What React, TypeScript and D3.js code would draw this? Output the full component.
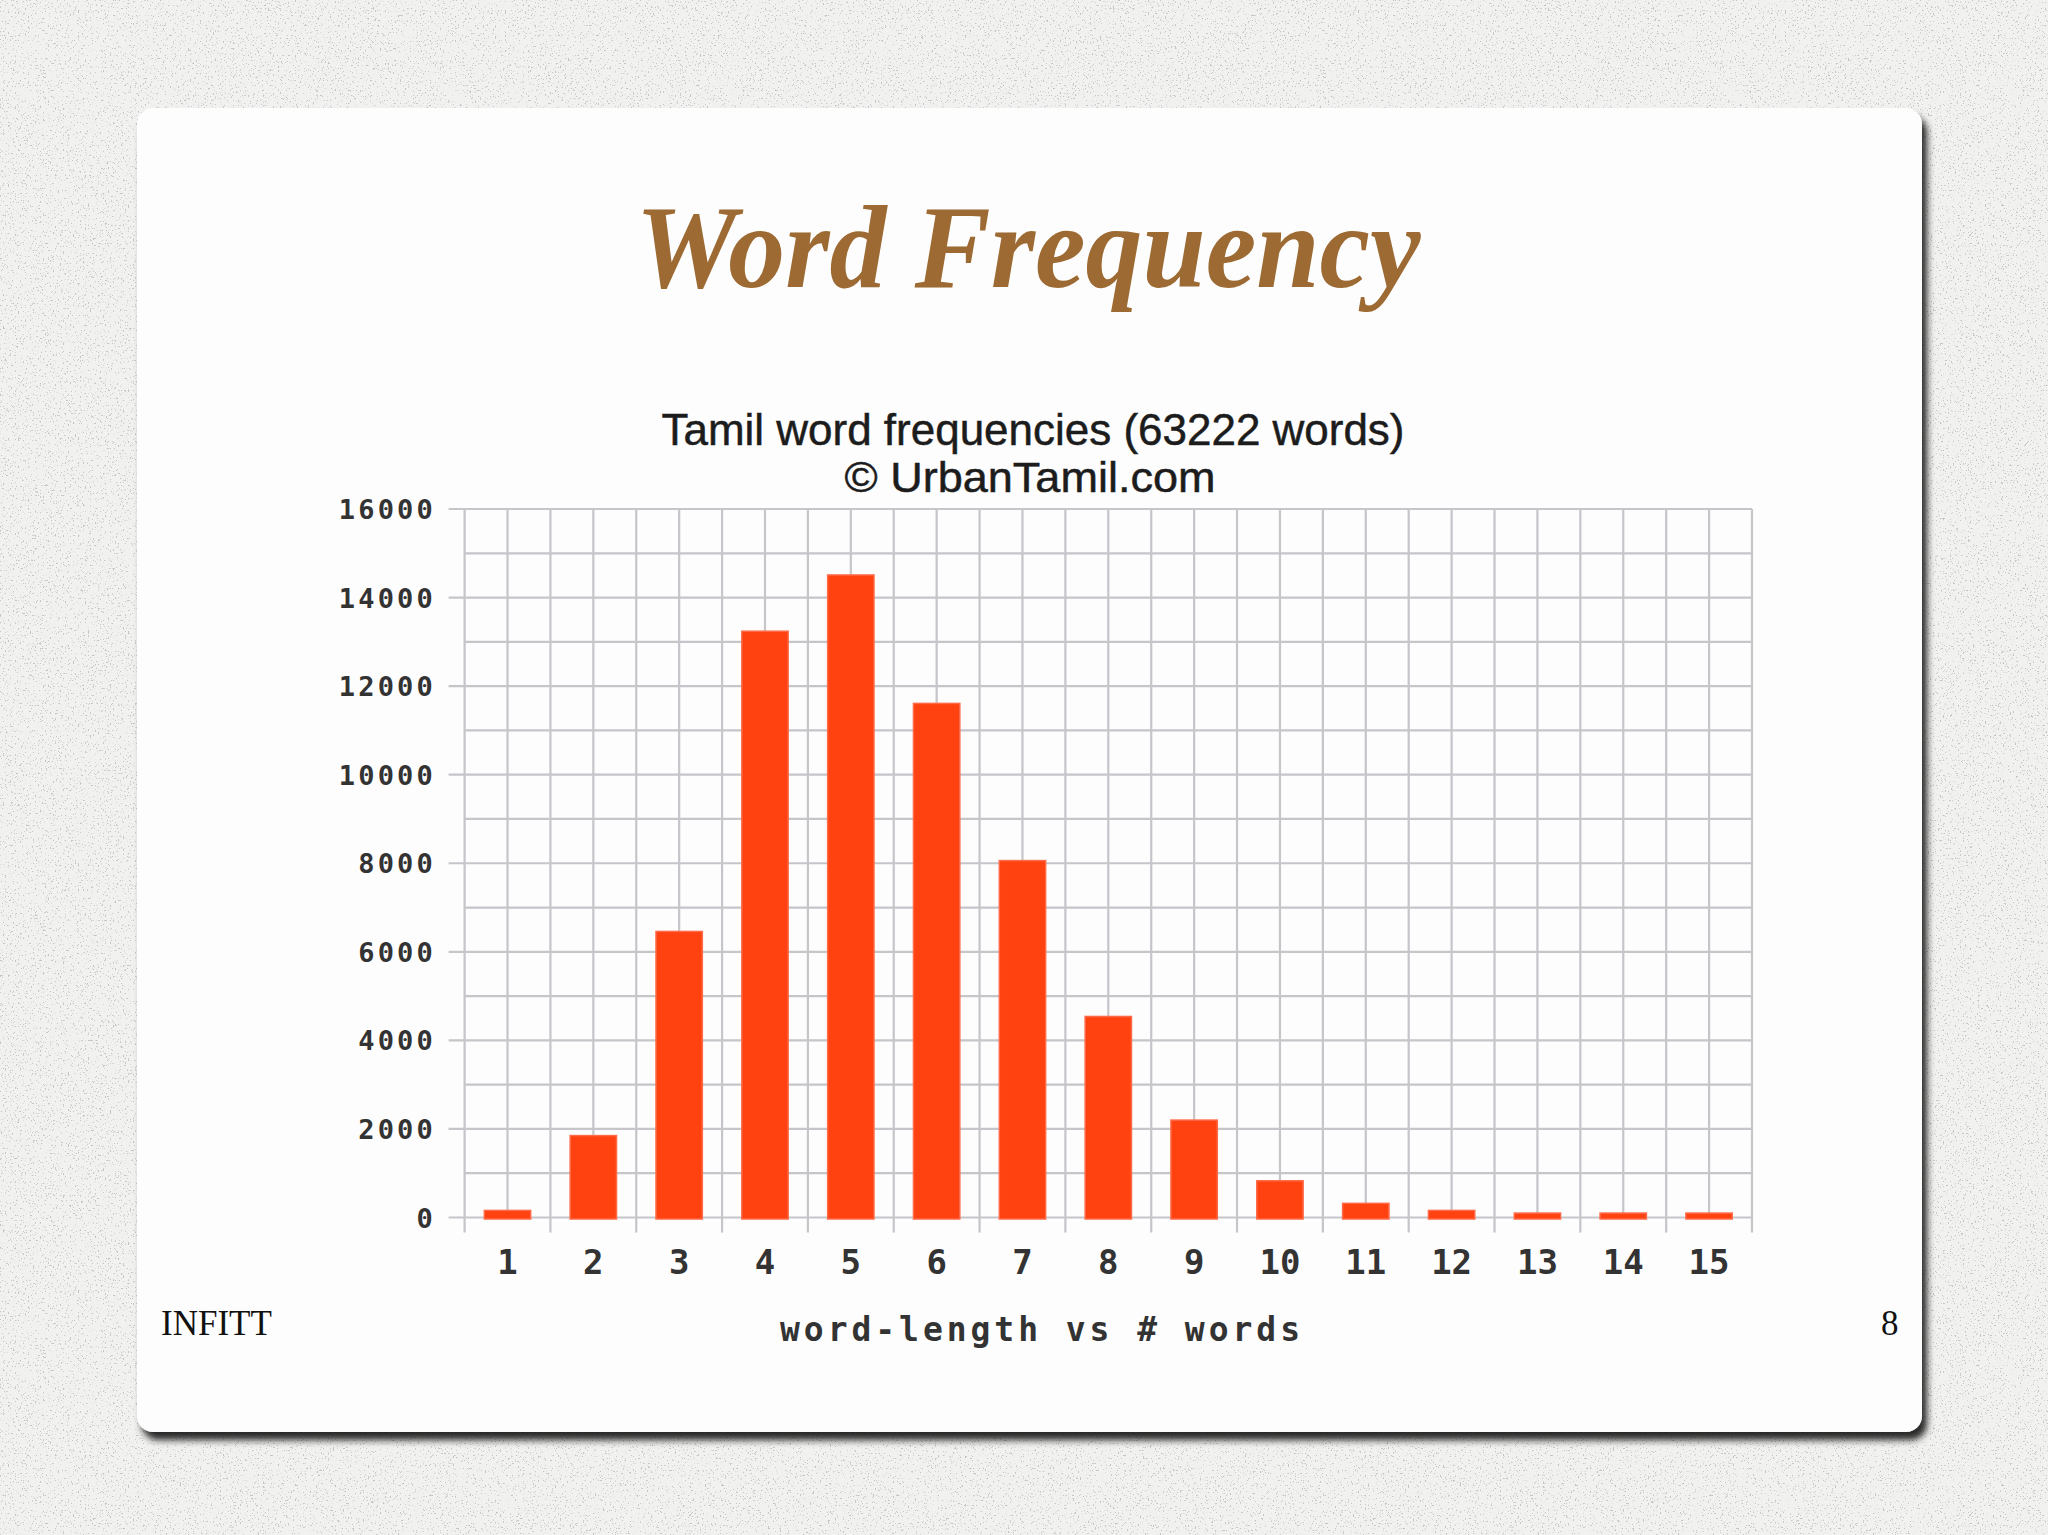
import React from "react";
import * as d3 from "d3";

const categories = [1, 2, 3, 4, 5, 6, 7, 8, 9, 10, 11, 12, 13, 14, 15];
const wordCounts = [160, 1850, 6460, 13240, 14510, 11610, 8060, 4540, 2200, 830, 320, 160, 100, 100, 100];
const yTicks = [0, 2000, 4000, 6000, 8000, 10000, 12000, 14000, 16000];
const yMinorTicks = [1000, 3000, 5000, 7000, 9000, 11000, 13000, 15000];
const slideTitle = "Word Frequency";
const chartTitle1 = "Tamil word frequencies (63222 words)";
const chartTitle2 = "© UrbanTamil.com";
const xAxisTitle = "word-length vs # words";
const footerLeft = "INFITT";
const footerRight = "8";

const W = 2048;
const H = 1535;
const plot = { left: 464.6, right: 1752, top: 509, bottom: 1217.5 };

export default function App() {
  const x = d3.scaleLinear().domain([0.5, 15.5]).range([plot.left, plot.right]);
  const y = d3.scaleLinear().domain([0, 16000]).range([plot.bottom, plot.top]);
  const step = x(2) - x(1);
  const barW = step * 0.54;
  const halfTicks = d3.range(0.5, 15.51, 0.5);
  const grid = "#c5c5ca";

  return (
    <svg
      width={W}
      height={H}
      viewBox={`0 0 ${W} ${H}`}
      style={{ position: "absolute", left: 0, top: 0, display: "block" }}
    >
      <defs>
        <filter id="speckle" x="0" y="0" width="100%" height="100%">
          <feTurbulence type="fractalNoise" baseFrequency="0.6" numOctaves="2" seed="7" result="n" />
          <feColorMatrix
            in="n"
            type="matrix"
            values="0 0 0 0 0.45  0 0 0 0 0.45  0 0 0 0 0.45  12 0 0 0 -7.6"
          />
        </filter>
        <filter id="cardShadow" x="-5%" y="-5%" width="110%" height="112%">
          <feDropShadow dx="5" dy="8" stdDeviation="3.5" floodColor="#1e1e1e" floodOpacity="0.95" />
        </filter>
      </defs>

      {/* background */}
      <rect x={0} y={0} width={W} height={H} fill="#f1f1ef" />
      <rect x={0} y={0} width={W} height={H} filter="url(#speckle)" opacity={0.7} />

      {/* slide card */}
      <rect x={137} y={108} width={1785} height={1324} rx={16} ry={16} fill="#fdfdfd" filter="url(#cardShadow)" />

      {/* slide title */}
      <text
        x={1028}
        y={287}
        textAnchor="middle"
        fontFamily="'Liberation Serif', 'Times New Roman', serif"
        fontStyle="italic"
        fontWeight="bold"
        fontSize={118}
        fill="#9c6a32"
        textLength={785}
        lengthAdjust="spacingAndGlyphs"
      >
        {slideTitle}
      </text>

      {/* chart titles */}
      <text
        x={1033}
        y={445}
        textAnchor="middle"
        fontFamily="'Liberation Sans', Arial, sans-serif"
        fontSize={45}
        fill="#1c1c1c"
        stroke="#1c1c1c"
        strokeWidth={0.5}
        textLength={743}
        lengthAdjust="spacingAndGlyphs"
      >
        {chartTitle1}
      </text>
      <text
        x={1030}
        y={492}
        textAnchor="middle"
        fontFamily="'Liberation Sans', Arial, sans-serif"
        fontSize={43}
        fill="#1c1c1c"
        stroke="#1c1c1c"
        strokeWidth={0.5}
        textLength={371}
        lengthAdjust="spacingAndGlyphs"
      >
        {chartTitle2}
      </text>

      {/* horizontal grid lines */}
      {yMinorTicks.map((v) => (
        <line key={"hm" + v} x1={plot.left} x2={plot.right} y1={y(v)} y2={y(v)} stroke={grid} strokeWidth={2.2} />
      ))}
      {yTicks.map((v) => (
        <line key={"hM" + v} x1={plot.left - 16} x2={plot.right} y1={y(v)} y2={y(v)} stroke={grid} strokeWidth={2.2} />
      ))}

      {/* vertical grid lines */}
      {halfTicks.map((t) => {
        const boundary = Math.abs(t - Math.round(t)) > 0.1;
        return (
          <line
            key={"v" + t}
            x1={x(t)}
            x2={x(t)}
            y1={plot.top}
            y2={boundary ? plot.bottom + 15 : plot.bottom}
            stroke={grid}
            strokeWidth={2.2}
          />
        );
      })}

      {/* bars */}
      {categories.map((c, i) => (
        <rect
          key={"b" + c}
          x={x(c) - barW / 2}
          y={y(wordCounts[i])}
          width={barW}
          height={y(0) - y(wordCounts[i]) + 1.5}
          fill="#ff4210"
          stroke="#ff6a48"
          strokeWidth={1.5}
        />
      ))}

      {/* y labels */}
      {yTicks.map((v) => (
        <text
          key={"yl" + v}
          x={436}
          y={y(v) + 10}
          textAnchor="end"
          fontFamily="'DejaVu Sans Mono', monospace"
          fontWeight="bold"
          fontSize={27}
          letterSpacing={3.2}
          fill="#333"
        >
          {String(v)}
        </text>
      ))}

      {/* x labels */}
      {categories.map((c) => (
        <text
          key={"xl" + c}
          x={x(c)}
          y={1274}
          textAnchor="middle"
          fontFamily="'DejaVu Sans Mono', monospace"
          fontWeight="bold"
          fontSize={34}
          fill="#333"
        >
          {String(c)}
        </text>
      ))}

      {/* x axis title */}
      <text
        x={1040}
        y={1341}
        textAnchor="middle"
        fontFamily="'DejaVu Sans Mono', monospace"
        fontWeight="bold"
        fontSize={33}
        fill="#333"
        textLength={520}
        lengthAdjust="spacing"
      >
        {xAxisTitle}
      </text>

      {/* footer */}
      <text x={161} y={1335} fontFamily="'Liberation Serif', 'Times New Roman', serif" fontSize={35} fill="#111">
        {footerLeft}
      </text>
      <text x={1881} y={1335} fontFamily="'Liberation Serif', 'Times New Roman', serif" fontSize={35} fill="#111">
        {footerRight}
      </text>
    </svg>
  );
}
